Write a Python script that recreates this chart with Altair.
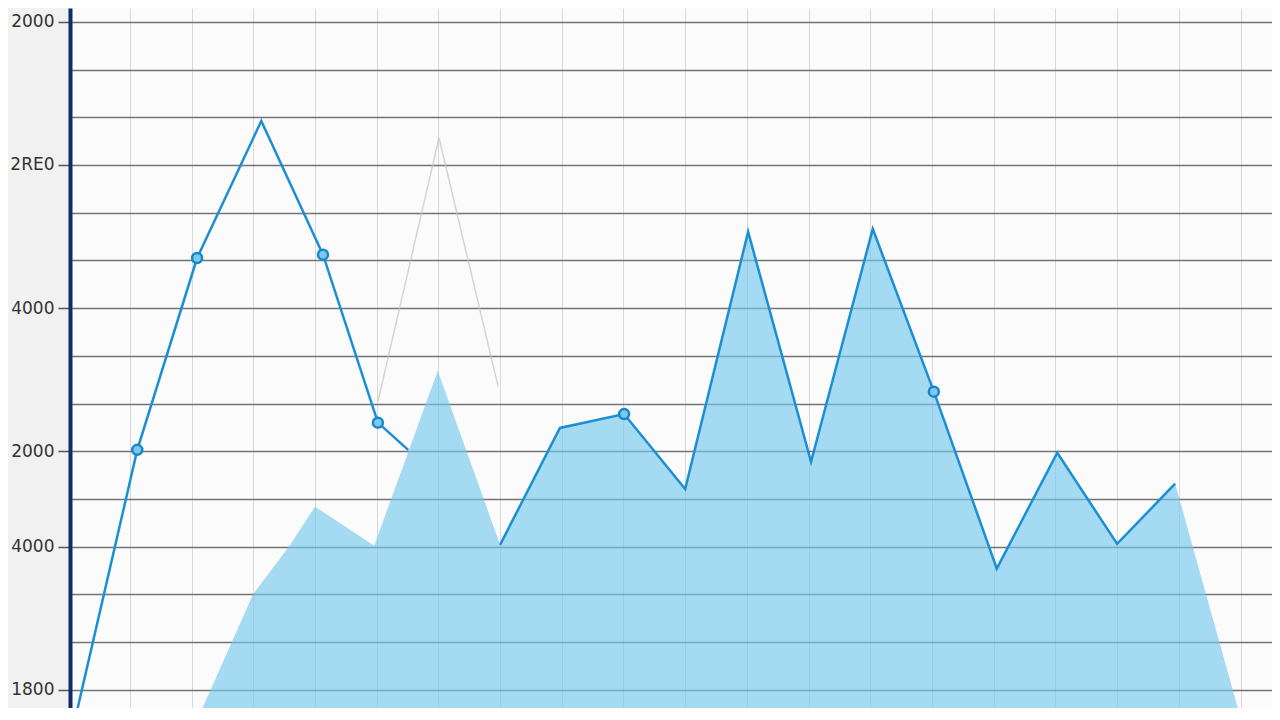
import altair as alt
import pandas as pd

# ---- data (x in grid-column units, y in grid-row units) ----
line_seg = ["a"] * 7 + ["b"] * 12
line_x = [-0.89, 0.12, 1.09, 2.13, 3.13, 4.02, 4.51,
          6.00, 6.97, 8.01, 9.00, 10.02, 11.04, 12.04, 13.03, 14.05, 15.03, 16.00, 16.94]
line_y = [-0.63, 5.03, 9.05, 11.92, 9.12, 5.60, 5.03,
          3.04, 5.49, 5.78, 4.21, 9.60, 4.78, 9.66, 6.25, 2.54, 4.97, 3.06, 4.32]
marker_x = [0.12, 1.09, 3.13, 4.02, 8.01, 13.03]
marker_y = [5.03, 9.05, 9.12, 5.60, 5.78, 6.25]

area_x = [1.09, 1.67, 1.99, 2.60, 3.00, 3.96, 4.99, 6.00, 6.97, 8.01, 9.00, 10.02,
          11.04, 12.04, 13.03, 14.05, 15.03, 16.00, 16.94, 18.01]
area_y = [-0.63, 1.05, 1.99, 3.04, 3.84, 3.02, 6.69, 3.04, 5.49, 5.78, 4.21, 9.60,
          4.78, 9.66, 6.25, 2.54, 4.97, 3.06, 4.32, -0.63]
area_base = -1.0

ghost_x = [4.02, 5.01, 5.97]
ghost_y = [6.04, 11.57, 6.35]

tick_vals = [0, 3, 5, 8, 11, 14]
tick_text = ["1800", "4000", "2000", "4000", "2RE0", "2000"]

# ---- build tables ----
line_df = pd.DataFrame({"x": line_x, "y": line_y, "seg": line_seg})
line_df["order"] = range(len(line_df))
area_df = pd.DataFrame({"x": area_x, "y": area_y})
area_df["base"] = area_base
ghost_df = pd.DataFrame({"x": ghost_x, "y": ghost_y})
marker_df = pd.DataFrame({"x": marker_x, "y": marker_y})

label_expr = "''"
for v, t in zip(reversed(tick_vals), reversed(tick_text)):
    label_expr = f"datum.value == {v} ? '{t}' : ({label_expr})"
tick_test = "indexof([" + ",".join(str(v) for v in tick_vals) + "], datum.value) >= 0"

xs = alt.Scale(domain=[-0.97, 18.51], nice=False, zero=False)
ys = alt.Scale(domain=[-0.38, 14.29], nice=False, zero=False)

x_axis = alt.Axis(values=list(range(19)), grid=True, gridColor="#d9d9d9", gridWidth=1,
                  labels=False, ticks=False, domain=False, title=None)
y_axis = alt.Axis(values=list(range(15)), grid=True, gridColor="#5c5c5c", gridWidth=1.6,
                  gridOpacity=0.85, labelExpr=label_expr, labelFont="DejaVu Sans",
                  labelFontSize=17, labelColor="#333333", labelPadding=4,
                  tickSize=12, tickColor="#555555", tickWidth=1.5,
                  tickOpacity={"condition": {"test": tick_test, "value": 1}, "value": 0},
                  domainColor="#0c2c6c", domainWidth=4, title=None)

area = alt.Chart(area_df).mark_area(color="#77c7ee", opacity=0.65, clip=True).encode(
    x=alt.X("x:Q", scale=xs, axis=x_axis),
    y=alt.Y("y:Q", scale=ys, axis=y_axis),
    y2="base:Q",
)

ghost = alt.Chart(ghost_df).mark_line(color="#c4c4c4", strokeWidth=1.5, opacity=0.7, clip=True).encode(
    x=alt.X("x:Q", scale=xs), y=alt.Y("y:Q", scale=ys)
)

line = alt.Chart(line_df).mark_line(color="#1b8fd2", strokeWidth=2.5, clip=True).encode(
    x=alt.X("x:Q", scale=xs), y=alt.Y("y:Q", scale=ys), detail="seg:N", order="order:Q"
)

points = alt.Chart(marker_df).mark_point(shape="circle", filled=True, fill="#7cc8ef",
                                         stroke="#1a86c8", strokeWidth=2.5, size=100,
                                         opacity=1, clip=True).encode(
    x=alt.X("x:Q", scale=xs), y=alt.Y("y:Q", scale=ys)
)

chart = alt.layer(area, ghost, line, points).properties(
    width=1202, height=700,
    autosize=alt.AutoSizeParams(type="none"),
    padding={"left": 62, "top": 0, "right": 0, "bottom": 0},
    background="#f1f1f1",
).configure_view(fill="#fbfbfb", stroke=None)

chart.save("out.html", embed_options={"renderer": "svg", "actions": False})
